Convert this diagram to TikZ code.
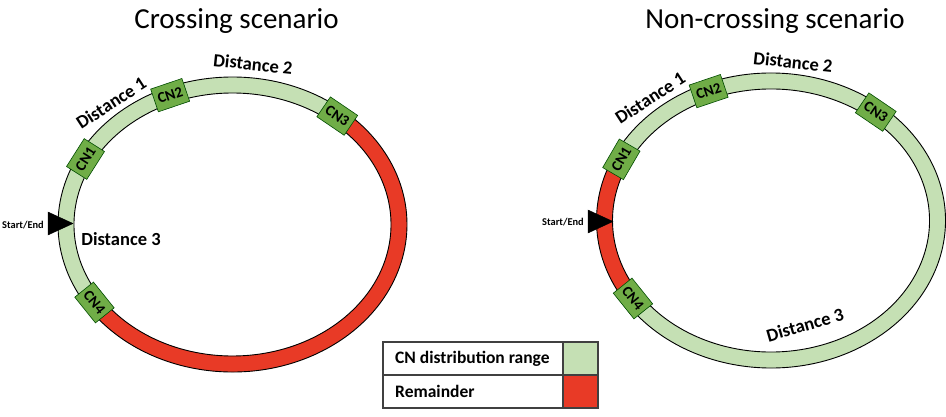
\documentclass[tikz,border=0pt]{standalone}
\usepackage{fontspec}
\setmainfont{Carlito}
\definecolor{lgreen}{HTML}{C5E0B4}
\definecolor{rred}{HTML}{E83A26}
\definecolor{cngreen}{HTML}{70AD47}
\newcommand\ringseg[3]{%
  \filldraw[seg, fill=#3] (#1:174.5pt and 147.5pt)
    arc[start angle=#1, end angle=#2, x radius=174.5pt, y radius=147.5pt]
    -- (#2:158.5pt and 131.5pt)
    arc[start angle=#2, end angle=#1, x radius=158.5pt, y radius=131.5pt] -- cycle;}
\begin{document}
\begin{tikzpicture}[x=1pt,y=1pt,
  seg/.style={draw=black, line width=0.9pt},
  cnbox/.style={draw=black!70!green, fill=cngreen, line width=0.6pt, minimum width=33pt, minimum height=24pt, inner sep=0pt, font=\fontsize{15}{16}\selectfont\bfseries},
  dist/.style={font=\fontsize{18.5}{20}\selectfont\bfseries, inner sep=0pt},
  title/.style={font=\fontsize{29}{32}\selectfont, inner sep=0pt},
  selabel/.style={font=\fontsize{10.4}{11}\selectfont\bfseries, inner sep=0pt},
  startmark/.style={fill=black},
  legline/.style={draw=black!75, line width=1.1pt},
  legtext/.style={font=\fontsize{17.5}{19}\selectfont\bfseries, inner sep=0pt, anchor=west}]
\useasboundingbox (0,0) rectangle (946,416);

% titles
\node[title] (t1) at (236.5,395) {Crossing scenario};
\node[title] (t2) at (775,395) {Non-crossing scenario};

% ---------- left ring: crossing ----------
\begin{scope}[shift={(232.5,191.5)}]
  \ringseg{51}{214}{lgreen}
  \ringseg{214}{411}{rred}
  \node[cnbox, rotate=57.6] (a1) at (152:166.5pt and 139.5pt) {CN1};
  \node[cnbox, rotate=18.7] (a2) at (112:166.5pt and 139.5pt) {CN2};
  \node[cnbox, rotate=-34.2] (a3) at (51:166.5pt and 139.5pt) {CN3};
  \node[cnbox, rotate=-51.2] (a4) at (214:166.5pt and 139.5pt) {CN4};
\end{scope}
\filldraw[startmark] (48,204) -- (48,181) -- (73,192.5) -- cycle;
\node[selabel] (ase) at (23,191) {Start/End};
\node[dist, rotate=33] (ad1) at (111,313) {Distance 1};
\node[dist, rotate=-6] (ad2) at (253,352) {Distance 2};
\node[dist] (ad3) at (121,177) {Distance 3};

% ---------- right ring: non-crossing ----------
\begin{scope}[shift={(771,195.5)}]
  \ringseg{-146}{154}{lgreen}
  \ringseg{154}{214}{rred}
  \node[cnbox, rotate=59.8] (b1) at (154:166.5pt and 139.5pt) {CN1};
  \node[cnbox, rotate=18.7] (b2) at (112:166.5pt and 139.5pt) {CN2};
  \node[cnbox, rotate=-34.2] (b3) at (51:166.5pt and 139.5pt) {CN3};
  \node[cnbox, rotate=-51.2] (b4) at (214:166.5pt and 139.5pt) {CN4};
\end{scope}
\filldraw[startmark] (588,206) -- (588,183) -- (613,194.5) -- cycle;
\node[selabel] (bse) at (563,194) {Start/End};
\node[dist, rotate=33] (bd1) at (650,318) {Distance 1};
\node[dist, rotate=-6] (bd2) at (793,354) {Distance 2};
\node[dist, rotate=16] (bd3) at (805,91) {Distance 3};

% ---------- legend ----------
\fill[lgreen] (563,41) rectangle (598,74);
\fill[rred] (563,8) rectangle (598,41);
\draw[legline] (383,8) rectangle (598,74);
\draw[legline] (383,41) -- (598,41);
\draw[legline] (563,8) -- (563,74);
\node[legtext] (l1) at (395,57.5) {CN distribution range};
\node[legtext] (l2) at (395,24.5) {Remainder};
\end{tikzpicture}
\end{document}
